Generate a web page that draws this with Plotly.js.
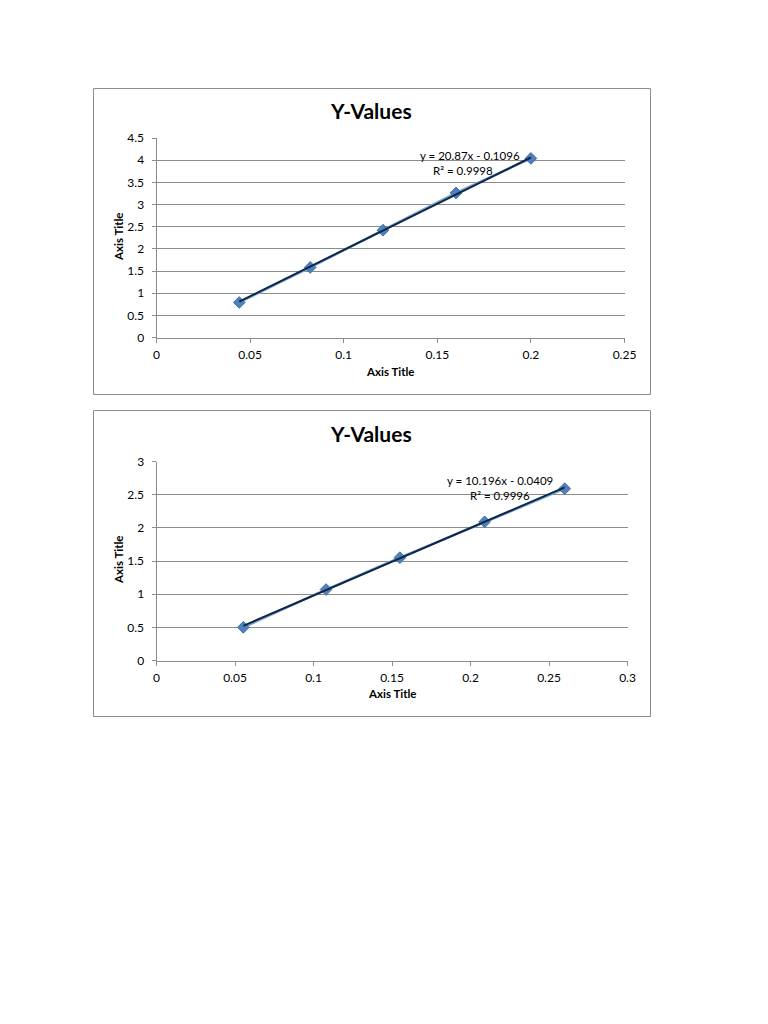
<!DOCTYPE html>
<html><head><meta charset="utf-8">
<script src="https://cdn.plot.ly/plotly-3.0.1.min.js"></script>
<style>html,body{margin:0;padding:0;background:#fff}#c{width:768px;height:1024px}</style>
</head><body><div id="c"></div>
<script>
// Chart 1 data
const x1 = [0.0442, 0.0821, 0.121, 0.160, 0.200];
const y1 = [0.79, 1.58, 2.42, 3.26, 4.04];
const trendX1 = [0.0442, 0.200];
const trendY1 = [0.81, 4.06];
const eq1 = "y = 20.87x - 0.1096";
const r1 = "R² = 0.9998";
const xTicks1 = [0, 0.05, 0.1, 0.15, 0.2, 0.25];
const xTickText1 = ["0", "0.05", "0.1", "0.15", "0.2", "0.25"];
const yTicks1 = [0, 0.5, 1, 1.5, 2, 2.5, 3, 3.5, 4, 4.5];
const yTickText1 = ["0", "0.5", "1", "1.5", "2", "2.5", "3", "3.5", "4", "4.5"];

// Chart 2 data
const x2 = [0.0553, 0.108, 0.155, 0.209, 0.260];
const y2 = [0.50, 1.07, 1.55, 2.09, 2.59];
const trendX2 = [0.0553, 0.260];
const trendY2 = [0.523, 2.61];
const eq2 = "y = 10.196x - 0.0409";
const r2 = "R² = 0.9996";
const xTicks2 = [0, 0.05, 0.1, 0.15, 0.2, 0.25, 0.3];
const xTickText2 = ["0", "0.05", "0.1", "0.15", "0.2", "0.25", "0.3"];
const yTicks2 = [0, 0.5, 1, 1.5, 2, 2.5, 3];
const yTickText2 = ["0", "0.5", "1", "1.5", "2", "2.5", "3"];

const chartTitle = "Y-Values";
const axisTitle = "Axis Title";

const W = 768, H = 1024;
const px = v => v / W;
const py = v => 1 - v / H;

const FONT = "Lato, 'Open Sans', sans-serif";
const seriesColor = "#4F81BD";
const lineColor = "#7EA6DA";
const trendColor = "#0E2743";
const gridColor = "#8C8C8C";

function series(x, y, xa, ya) {
  return {x: x, y: y, xaxis: xa, yaxis: ya, type: "scatter", mode: "lines+markers",
    line: {color: lineColor, width: 2.5},
    marker: {symbol: "diamond", size: 9, color: seriesColor, line: {color: "#3E6FA8", width: 1}},
    hoverinfo: "none", showlegend: false};
}
function trend(x, y, xa, ya) {
  return {x: x, y: y, xaxis: xa, yaxis: ya, type: "scatter", mode: "lines",
    line: {color: trendColor, width: 2}, hoverinfo: "none", showlegend: false};
}

const data = [
  series(x1, y1, "x", "y"), trend(trendX1, trendY1, "x", "y"),
  series(x2, y2, "x2", "y2"), trend(trendX2, trendY2, "x2", "y2")
];

function xaxis(domain, range, tv, tt, anchor) {
  return {domain: domain, range: range, anchor: anchor, tickvals: tv, ticktext: tt,
    showgrid: false, zeroline: false, showline: true, linecolor: gridColor, linewidth: 1,
    ticks: "outside", ticklen: 4, tickcolor: gridColor, fixedrange: true, ticklabelstandoff: 2,
    tickfont: {family: FONT, size: 12, color: "#000"}};
}
function yaxis(domain, range, tv, tt, anchor) {
  return {domain: domain, range: range, anchor: anchor, tickvals: tv, ticktext: tt,
    showgrid: true, gridcolor: gridColor, gridwidth: 1, zeroline: false,
    showline: true, linecolor: gridColor, linewidth: 1,
    ticks: "outside", ticklen: 4, tickcolor: gridColor, fixedrange: true, ticklabelstandoff: 5,
    tickfont: {family: FONT, size: 12, color: "#000"}};
}

const ann = [];
function addText(text, x, y, size, bold, angle) {
  ann.push({xref: "paper", yref: "paper", x: px(x), y: py(y), xanchor: "center", yanchor: "middle",
    text: bold ? "<b>" + text + "</b>" : text, showarrow: false, textangle: angle || 0,
    font: {family: FONT, size: size, color: "#000"}});
}
addText(chartTitle, 371, 110, 21, true);
addText(axisTitle, 390, 371, 11.5, true);
addText(axisTitle, 118, 237, 11.5, true, -90);
addText(eq1, 470, 155, 11.5, false);
addText(r1, 463, 170, 11.5, false);

addText(chartTitle, 371, 433, 21, true);
addText(axisTitle, 392, 693, 11.5, true);
addText(axisTitle, 118, 560, 11.5, true, -90);
addText(eq2, 500, 480, 11.5, false);
addText(r2, 500, 495, 11.5, false);

const shapes = [
  {type: "rect", xref: "paper", yref: "paper", x0: px(93.5), x1: px(650.5), y0: py(88.5), y1: py(394.5),
   line: {color: "#8C8C8C", width: 1}, layer: "below"},
  {type: "rect", xref: "paper", yref: "paper", x0: px(93.5), x1: px(650.5), y0: py(410.5), y1: py(716.5),
   line: {color: "#8C8C8C", width: 1}, layer: "below"}
];

const layout = {
  width: W, height: H, margin: {l: 0, r: 0, t: 0, b: 0},
  paper_bgcolor: "#fff", plot_bgcolor: "rgba(0,0,0,0)", showlegend: false,
  xaxis: xaxis([px(156.5), px(624.5)], [0, 0.25], xTicks1, xTickText1, "y"),
  yaxis: yaxis([py(337.5), py(138)], [0, 4.5], yTicks1, yTickText1, "x"),
  xaxis2: xaxis([px(156.5), px(627.5)], [0, 0.3], xTicks2, xTickText2, "y2"),
  yaxis2: yaxis([py(660.5), py(461.5)], [0, 3], yTicks2, yTickText2, "x2"),
  annotations: ann, shapes: shapes
};

Plotly.newPlot("c", data, layout, {displayModeBar: false, staticPlot: true});
</script>
</body></html>
